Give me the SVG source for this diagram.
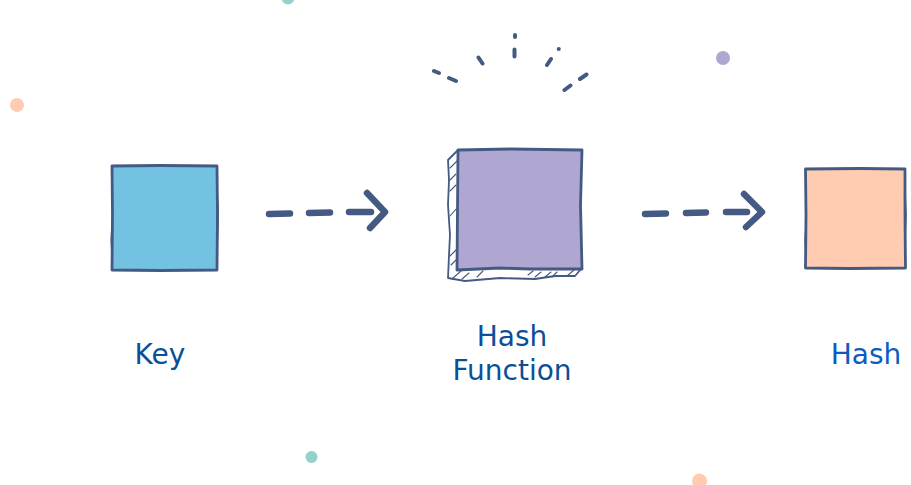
<svg xmlns="http://www.w3.org/2000/svg" width="911" height="485" viewBox="0 0 911 485">
<style>
.ink{fill:none;stroke:#445a82;stroke-linecap:round;stroke-linejoin:round}
.box{stroke:#445a82;stroke-width:2.8;stroke-linejoin:round}
.dash{stroke-width:6.5}
.spark{stroke-width:4}
.hatch{stroke-width:1.1}
text{font-family:"DejaVu Sans",Verdana,sans-serif;font-size:28px;text-anchor:middle}
</style>
<rect width="911" height="485" fill="#fff"/>
<g id="dots">
<circle cx="288" cy="-2" r="6.500" fill="#93d2cb"/>
<circle cx="17" cy="105" r="7" fill="#ffcbb1"/>
<circle cx="723" cy="58" r="7" fill="#b0a6d2"/>
<circle cx="311.500" cy="457" r="6" fill="#93d2cb"/>
<circle cx="699.500" cy="481" r="7.500" fill="#ffcbb1"/>
</g>
<g id="sparks" class="ink">
<path class="spark" d="M434 71L439 73M449 78L456 81M478.500 57.500L482.500 63.500M515 35V37M514.500 49.500V56.500M547 65L551 59M558.700 49h.1M564.500 90L570.500 85.500M580 79L586.500 74.500"/>
</g>
<g id="key">
<path class="box" fill="#73c2e2" d="M112 166L160 165.500L217 166L217.500 215L217 270L160 270.500L112 270L112.500 215Z"/>
<path class="ink" stroke-width="2" d="M217 195Q218.500 215 217 240M112 230Q110.800 240 112 250"/>
<text x="160" y="364" fill="#0b4f97">Key</text>
</g>
<g id="hash-function">
<path class="ink" stroke-width="1.800" d="M458 150L448 160L449 180L448 205L450 235L449 255L448 278L465 281L500 278L535 279L555 276L575 276L581 269"/>
<path class="ink hatch" d="M450 168L457 161M450 180L456 174M450 191L456 185M450 216L457 208M450 256L457 249M451 265L456 260M452 279L461 271M462 279L469 273M477 277L483 271M528 275L533 271M535 277L541 272M545 277L551 272M552 277L557 272M567 276L574 270"/>
<path class="box" fill="#b0a6d2" d="M458 150L510 149L582 150L580.500 205L582 269L530 269L500 268L457 270L457.500 210Z"/>
<text x="512" y="346" fill="#0b4f97">Hash</text>
<text x="512" y="380" fill="#0b4f97">Function</text>
</g>
<g id="hash">
<path class="box" fill="#ffcbb1" d="M805.500 169L860 168.500L905 169L905 215L905.500 268L850 268.500L805.500 268L806 215Z"/>
<path class="ink" stroke-width="2.200" d="M905 198Q906.500 215 905 232M806 232Q805 240 806 247"/>
<text x="866" y="364" fill="#0b5cc0">Hash</text>
</g>
<g id="connectors" class="ink">
<path class="dash" d="M269 214L290 213.500M309 213L330 212.500M349 212H371M367 193L385 212L370 228"/>
<path class="dash" d="M645 214L666 213.500M686 213L706 212.500M726 212H747M744 194L762 212L746 227"/>
</g>
</svg>
